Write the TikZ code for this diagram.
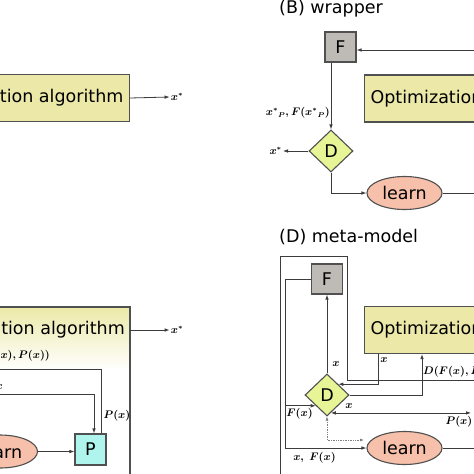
\documentclass[tikz,border=0pt]{standalone}
\usepackage{fontspec}
\setmainfont{DejaVu Sans}
\usetikzlibrary{shapes.geometric,arrows.meta,calc}
\definecolor{optc}{RGB}{236,233,168}
\definecolor{fcol}{RGB}{190,187,182}
\definecolor{dcol}{RGB}{232,245,150}
\definecolor{lcol}{RGB}{246,192,170}
\definecolor{pcol}{RGB}{175,245,238}
\definecolor{edge}{RGB}{80,80,80}
\definecolor{wirec}{RGB}{60,60,60}
\begin{document}
\begin{tikzpicture}[x=1pt,y=-1pt,
  every node/.style={font=\fontsize{17.5}{20}\selectfont},
  box/.style={draw=edge,line width=1.1pt,inner sep=0pt},
  optbox/.style={box,fill=optc,minimum height=47pt,inner xsep=6pt},
  fbox/.style={box,fill=fcol,minimum width=31pt,minimum height=30pt},
  pbox/.style={box,fill=pcol,minimum width=31pt,minimum height=31pt},
  dec/.style={box,diamond,fill=dcol,minimum width=44pt,minimum height=42pt,aspect=1},
  lrn/.style={box,ellipse,fill=lcol,minimum width=75pt,minimum height=33pt},
  lbl/.style={font=\fontsize{10.5}{12}\selectfont\boldmath,inner sep=1pt},
  title/.style={anchor=base west,inner sep=0pt},
  wire/.style={draw=wirec,line width=0.8pt},
  arr/.style={wire,-{Latex[length=5pt,width=3.6pt]}},
  darr/.style={wire,{Latex[length=5pt,width=3.6pt]}-{Latex[length=5pt,width=3.6pt]}},
  dots/.style={draw=gray,line width=0.7pt,densely dotted,{Latex[length=4pt,width=3pt]}-{Latex[length=4pt,width=3pt]}}
]
\useasboundingbox (0,0) rectangle (474,474);
\clip (0,0) rectangle (474,474);
\fill[white] (0,0) rectangle (474,474);

% ---------- Panel A ----------
\node[optbox,anchor=east] (optA) at (130,98) {Optimization algorithm};
\node[lbl] (xA) at (177,97) {$x^*$};
\draw[arr] (optA.east) -- (xA.west);

% ---------- Panel B ----------
\node[title] (tB) at (279,13) {(B) wrapper};
\node[fbox] (FB) at (340.5,47) {F};
\node[optbox,anchor=west] (optB) at (364,98.5) {Optimization algorithm};
\node[dec] (DB) at (331,151) {D};
\node[lrn] (learnB) at (404.5,193) {learn};
\coordinate (inB) at (480,50);
\coordinate (outB) at (480,193);
\draw[arr] (inB) -- (inB -| FB.east);
\draw[arr] (DB |- FB.south) -- (DB.north);
\node[lbl,anchor=east] (lb1) at (331,113) {${x^*}_P, F({x^*}_P)$};
\node[lbl,anchor=east] (xB) at (283,151) {$x^*$};
\draw[arr] (DB.west) -- (xB.east);
\draw[arr] (DB.south) |- (learnB.west);
\draw[wire] (learnB.east) -- (outB);

% ---------- Panel C ----------
\shade[top color=optc, bottom color=white] (-300,307) rectangle (130,370);
\draw[draw=edge,line width=1.1pt] (-300,307) rectangle (130,490);
\node[anchor=east,inner xsep=5pt,inner ysep=0pt,minimum height=46pt] (optC) at (130,330) {Optimization algorithm};
\node[lbl] (xC) at (177,330) {$x^*$};
\draw[arr] (optC.east) -- (xC.west);
\node[lbl,anchor=east] (dC) at (51,356) {$D(F(x),P(x))$};
\node[pbox] (PC) at (90.5,449.5) {P};
\node[lrn] (learnC) at (0,451.5) {learn};
\draw[arr] (learnC.east) -- (learnC.east -| PC.west);
\coordinate (cA) at (-10,369);
\coordinate (cB) at (-10,394);
\draw[wire] ($(PC.north)+(10.5,0)$) |- (cA);
\draw[arr] (cB) -| ($(PC.north)+(3.5,0)$);
\node[lbl] (pxC) at (117,416) {$P(x)$};
\node[lbl,anchor=east] (xCl) at (4,387) {$x$};

% ---------- Panel D ----------
\node[title] (tD) at (279,242.5) {(D) meta-model};
\draw[wire] (280,480) -- (280,256) -- (347,256) -- (347,380) -- (480,380);
\node[fbox] (FD) at (327,279) {F};
\node[optbox,anchor=west] (optD) at (364,330) {Optimization algorithm};
\node[dec] (DD) at (327,395) {D};
\node[lrn] (learnD) at (404.5,448) {learn};
\coordinate (bus) at (285,0);
\coordinate (pin) at (471,413);
\coordinate (dl) at (364,440);
\draw[arr] (DD.north) -- (FD.south);
\node[lbl] at (336,364) {$x$};
\draw[arr] (FD.west) -| (bus |- learnD.west) -- (learnD.west);
\draw[arr] (bus |- DD.south west) -- (DD.south west);
\node[lbl] at (299.5,414) {$F(x)$};
\node[lbl] at (314.5,458) {$x,\ F(x)$};
\draw[arr] ($(optD.south west)+(14,0)$) |- (DD.north east);
\node[lbl] at (384,360) {$x$};
\draw[arr] (DD.east) -| ($(optD.south west)+(58,0)$);
\node[lbl,anchor=west] at (422,372) {$D(F(x),P(x))$};
\draw[darr] (DD.-78) -- (DD.-78 -| pin);
\node[lbl] at (349,406) {$x$};
\node[lbl] at (459,422) {$P(x)$};
\draw[dots] (DD.south) |- (dl);
\draw[wire] (learnD.east) -- (learnD.east -| outB);
\end{tikzpicture}
\end{document}
